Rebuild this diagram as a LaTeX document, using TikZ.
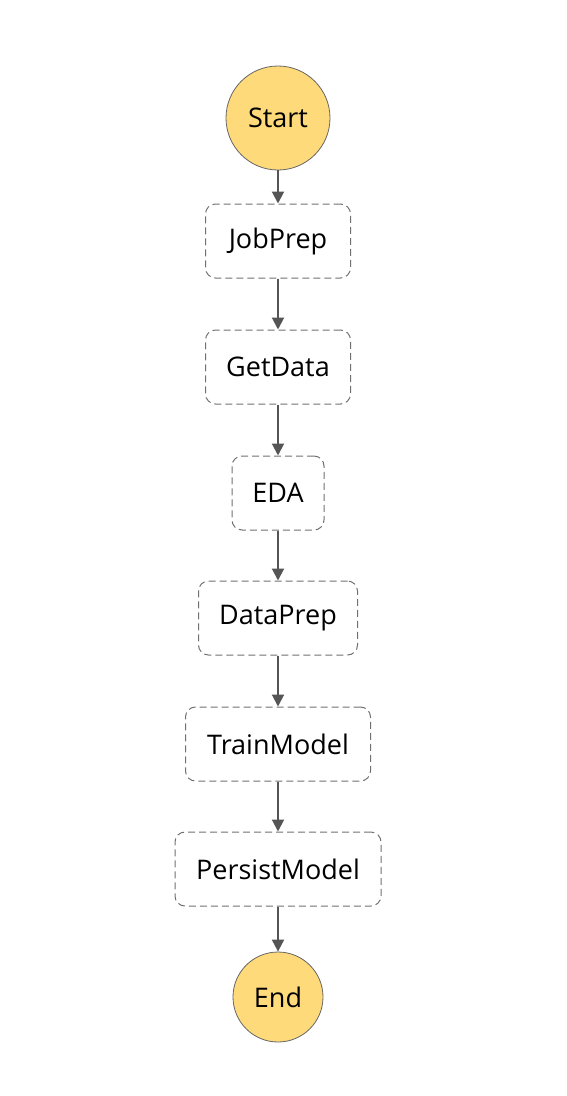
\documentclass[tikz,border=0pt]{standalone}
\usepackage{fontspec}
\setmainfont{Open Sans}
\usetikzlibrary{arrows.meta}
\definecolor{termfill}{HTML}{FFDA7A}
\definecolor{termline}{HTML}{666666}
\definecolor{stateline}{HTML}{707070}
\definecolor{flowline}{HTML}{555555}
\tikzset{
    term/.style={circle, draw=termline, fill=termfill, line width=0.8pt, font=\fontsize{27}{30}\selectfont},
    state/.style={draw=stateline, rounded corners=10pt, dash pattern=on 7pt off 4pt, line width=1pt,
        minimum height=74pt, inner xsep=4pt, font=\fontsize{27}{30}\selectfont},
    flow/.style={-{Triangle[length=12pt,width=12pt]}, draw=flowline, fill=flowline, line width=2pt}
}
\begin{document}
\begin{tikzpicture}[x=1pt, y=1pt]
        \useasboundingbox (0,0) rectangle (566,-1096);
        \node[term, minimum size=104pt] (start) at (278,-118) {Start};
        \node[state, minimum width=145pt] (jobprep) at (278,-241) {JobPrep};
        \node[state, minimum width=145pt] (getdata) at (278,-367) {GetData};
        \node[state, minimum width=92pt] (eda) at (278,-493) {EDA};
        \node[state, minimum width=159pt] (dataprep) at (278,-618) {DataPrep};
        \node[state, minimum width=185pt] (train) at (278,-744) {TrainModel};
        \node[state, minimum width=206pt] (persist) at (278,-869) {PersistModel};
        \node[term, minimum size=90pt] (end) at (278,-997) {End};

        \draw[flow] (start) -- (jobprep);
        \draw[flow] (jobprep) -- (getdata);
        \draw[flow] (getdata) -- (eda);
        \draw[flow] (eda) -- (dataprep);
        \draw[flow] (dataprep) -- (train);
        \draw[flow] (train) -- (persist);
        \draw[flow] (persist) -- (end);
    \end{tikzpicture}
\end{document}
